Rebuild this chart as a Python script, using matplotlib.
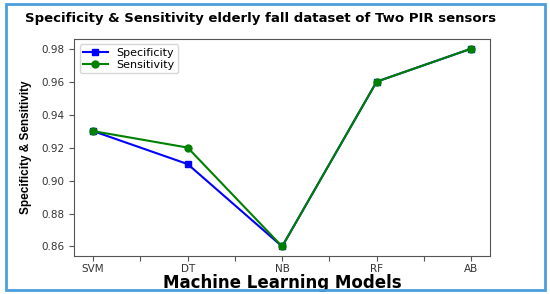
import matplotlib.pyplot as plt
from matplotlib.patches import Rectangle

models = ['SVM', 'DT', 'NB', 'RF', 'AB']
specificity = [0.93, 0.91, 0.86, 0.96, 0.98]
sensitivity = [0.93, 0.92, 0.86, 0.96, 0.98]

fig = plt.figure(figsize=(5.5, 2.94), dpi=100)
ax = fig.add_axes([0.135, 0.128, 0.756, 0.74])

x = list(range(len(models)))
ax.plot(x, specificity, color='blue', marker='s', markersize=5, linewidth=1.5, label='Specificity')
ax.plot(x, sensitivity, color='green', marker='o', markersize=5, linewidth=1.5, label='Sensitivity')

ax.set_xticks([i * 0.5 for i in range(9)])
ax.set_xticklabels([models[i // 2] if i % 2 == 0 else '' for i in range(9)], fontsize=7.5, color='#333333')
ax.set_yticks([0.86, 0.88, 0.90, 0.92, 0.94, 0.96, 0.98])
ax.set_yticklabels(['0.86', '0.88', '0.90', '0.92', '0.94', '0.96', '0.98'], fontsize=7.5, color='#333333')
ax.tick_params(color='#555555', length=3.5)
ax.tick_params(axis='x', pad=2)
for s in ax.spines.values():
    s.set_color('#555555')

ax.set_xlabel('Machine Learning Models', fontsize=12, fontweight='bold', labelpad=0)
ax.set_ylabel('Specificity & Sensitivity', fontsize=8.5, fontweight='bold',
              family='Liberation Sans', labelpad=7)
ax.legend(loc='upper left', fontsize=8, handlelength=2.2, borderpad=0.3, labelspacing=0.2)

fig.text(0.473, 0.925, 'Specificity & Sensitivity elderly fall dataset of Two PIR sensors',
         ha='center', fontsize=9.5, fontweight='bold')

fig.patches.append(Rectangle((0.01, 0.015), 0.98, 0.97, transform=fig.transFigure,
                             fill=False, edgecolor='#4a9fdc', linewidth=2))

fig.savefig('out.png', dpi=100)
